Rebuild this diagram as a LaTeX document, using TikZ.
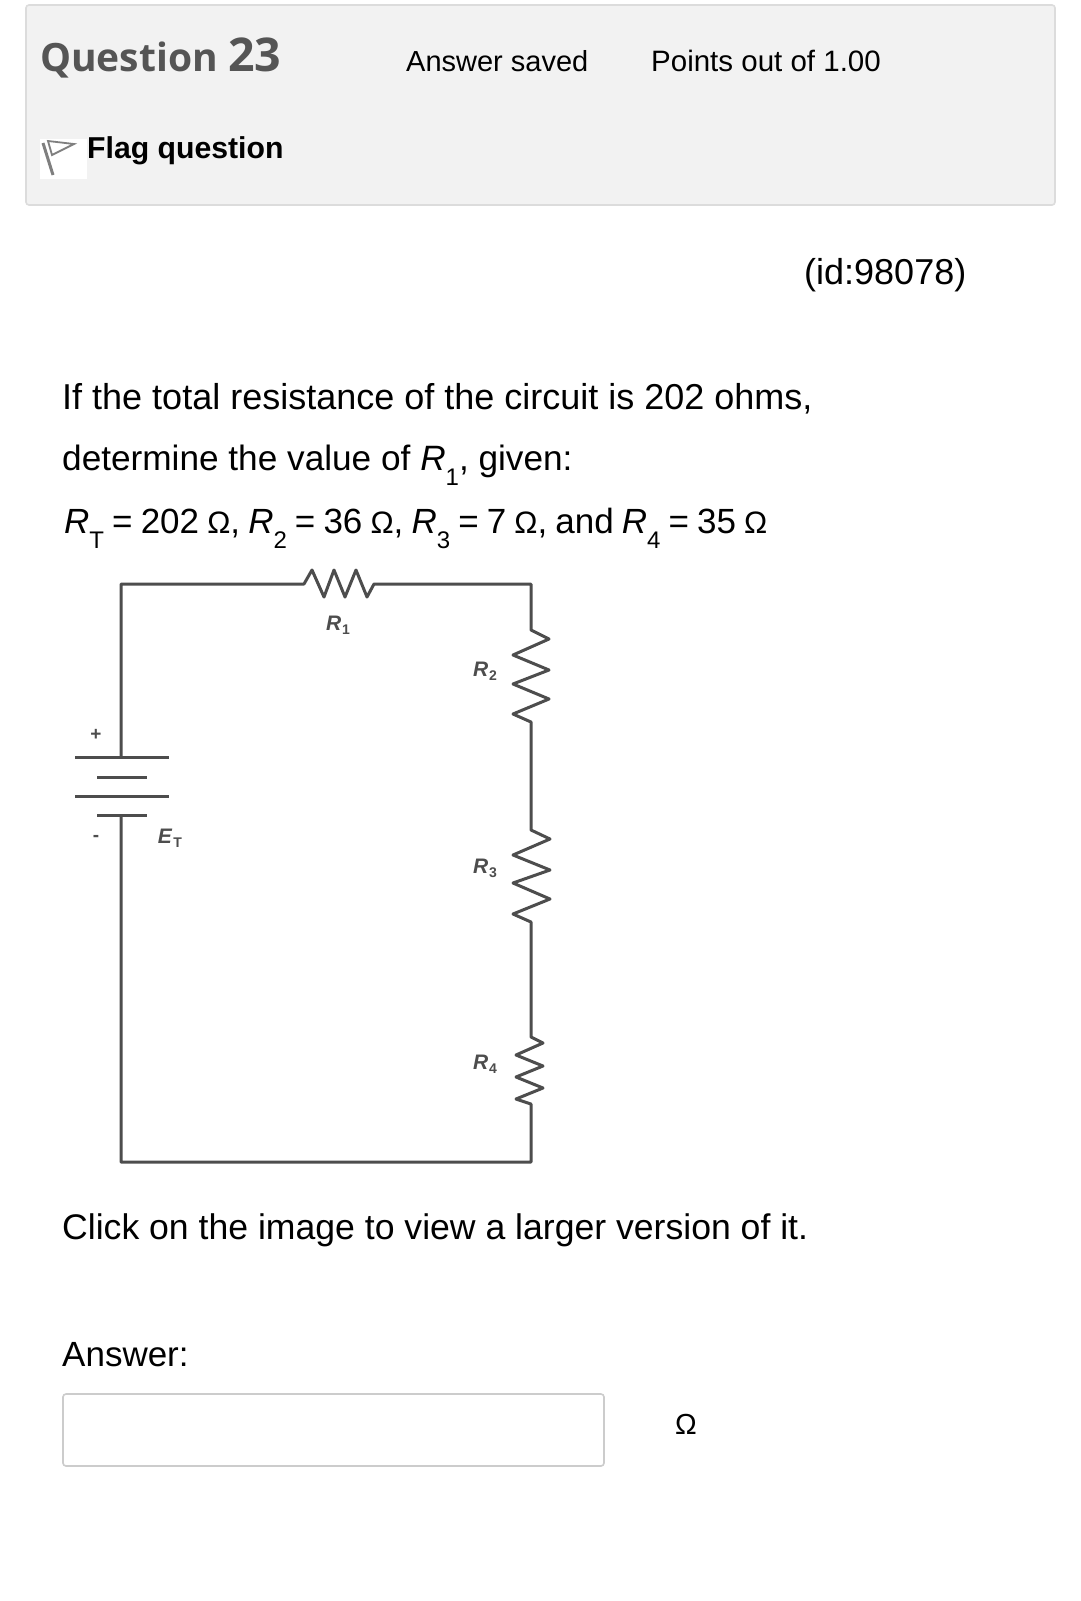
\documentclass[tikz,border=0pt]{standalone}
\usepackage{fontspec}
\setmainfont{Liberation Sans}
\newfontfamily\headfont{Open Sans}
\usepackage{xcolor}
\definecolor{panelfill}{HTML}{F2F2F2}
\definecolor{panelline}{HTML}{DCDCDC}
\definecolor{boxline}{HTML}{CCCCCC}
\definecolor{headgray}{HTML}{555555}
\definecolor{wiregray}{HTML}{4D4D4D}
\definecolor{flaggray}{HTML}{7F7F7F}
\newcommand{\fsize}[1]{\fontsize{#1}{#1}\selectfont}
\newcommand{\rsub}[1]{\textit{R}\raisebox{-15pt}{\fsize{24}#1}}
\newcommand{\ohm}{{\fsize{31}Ω}}
\newcommand{\clabel}[1]{\textbf{\textit{R}}\kern1pt\raisebox{-4pt}{\fsize{14}\textbf{#1}}}
\tikzset{
	body/.style = {anchor = base west, inner sep = 0pt, font = \fsize{36}},
	small/.style = {anchor = base west, inner sep = 0pt, font = \fsize{29.5}},
	wire/.style = {draw = wiregray, line width = 3pt, line join = round},
	part/.style = {inner sep = 0pt, text = wiregray, font = \fsize{21}}
}

\begin{document}
\begin{tikzpicture}[x = 1pt, y = -1pt]
	\useasboundingbox (0,0) rectangle (1080,1601);
	\fill [white] (0,0) rectangle (1080,1601);
	
	\filldraw [fill = panelfill, draw = panelline, line width = 1.6pt, rounded corners = 3pt] (26,5) rectangle (1055,205);
	\fill [white] (40,139) rectangle (87,179);
	\draw [flaggray, line width = 3pt] (53,175) -- (43,143);
	\draw [flaggray, line width = 1.8pt] (48,141) -- (74,144) -- (52,155) -- cycle;
	
	\node [anchor = base west, inner sep = 0pt, text = headgray, font = \headfont\bfseries\fsize{39}] (qname) at (40,71) {Question};
	\node [anchor = base west, inner sep = 0pt, text = headgray, font = \headfont\bfseries\fsize{46.5}] (qnum) at (228,71) {23};
	\node [small, font = \fsize{29}] (saved) at (406,71) {Answer saved};
	\node [small] (points) at (651,71) {Points out of 1.00};
	\node [anchor = base west, inner sep = 0pt, font = \bfseries\fsize{30.2}] (flag) at (87,158) {Flag question};
	\node [body] (id) at (804,284) {(id:98078)};
	
	\node [body] (lineone) at (62,409) {If the total resistance of the circuit is 202 ohms,};
	\node [body, font = \fsize{35.2}] (linetwo) at (62,470) {determine the value of \rsub{1}, given:};
	\node [body, font = \fsize{35}] (linethree) at (64,533) {\spaceskip=8.1pt\rsub{T} = 202 \ohm, \rsub{2} = 36 \ohm, \rsub{3} = 7 \ohm, and \rsub{4} = 35 \ohm};
	
	\coordinate (topleft) at (121,584);
	\coordinate (topright) at (531,584);
	\coordinate (botleft) at (121,1162);
	\coordinate (botright) at (531,1162);
	\coordinate (plus) at (121,757);
	\coordinate (minus) at (121,815);
	
	\draw [wire] (plus) -- (topleft) -- (304,584) -- (312,570) -- (324,597) -- (334,570) -- (345,597) -- (356,570) -- (367,597) -- (374,584) -- (topright) -- (531,630)
		-- (549,639) -- (513,655) -- (549,670) -- (513,684) -- (549,699) -- (513,714) -- (531,722) -- (531,830)
		-- (550,839) -- (513,855) -- (550,870) -- (513,883) -- (550,899) -- (513,914) -- (531,922) -- (531,1037)
		-- (543,1043) -- (516,1055) -- (543,1066) -- (516,1077) -- (543,1088) -- (516,1099) -- (531,1104) -- (botright) -- (botleft) -- (minus);
	
	\draw [wire] (75,757) -- (169,757);
	\draw [wire] (97,777) -- (147,777);
	\draw [wire] (75,796) -- (169,796);
	\draw [wire] (97,815) -- (147,815);
	
	\node [part, font = \bfseries\fsize{19}] (pluslabel) at (96,735) {+};
	\node [part, font = \bfseries\fsize{19}] (minuslabel) at (96,838) {-};
	\node [part] (et) at (170,838) {\textbf{\textit{E}}\kern1pt\raisebox{-4pt}{\fsize{14}\textbf{T}}};
	\node [part] (rone) at (338,625) {\clabel{1}};
	\node [part] (rtwo) at (485,671) {\clabel{2}};
	\node [part] (rthree) at (485,868) {\clabel{3}};
	\node [part] (rfour) at (485,1064) {\clabel{4}};
	
	\node [body, font = \fsize{35.6}] (click) at (62,1239) {Click on the image to view a larger version of it.};
	\node [body, font = \fsize{35}] (answer) at (62,1366) {Answer:};
	\draw [boxline, line width = 1.6pt, rounded corners = 3pt] (63,1394) rectangle (604,1466);
	\node [anchor = center, inner sep = 0pt, font = \fsize{29}] (unit) at (686,1424) {Ω};
\end{tikzpicture}
\end{document}
